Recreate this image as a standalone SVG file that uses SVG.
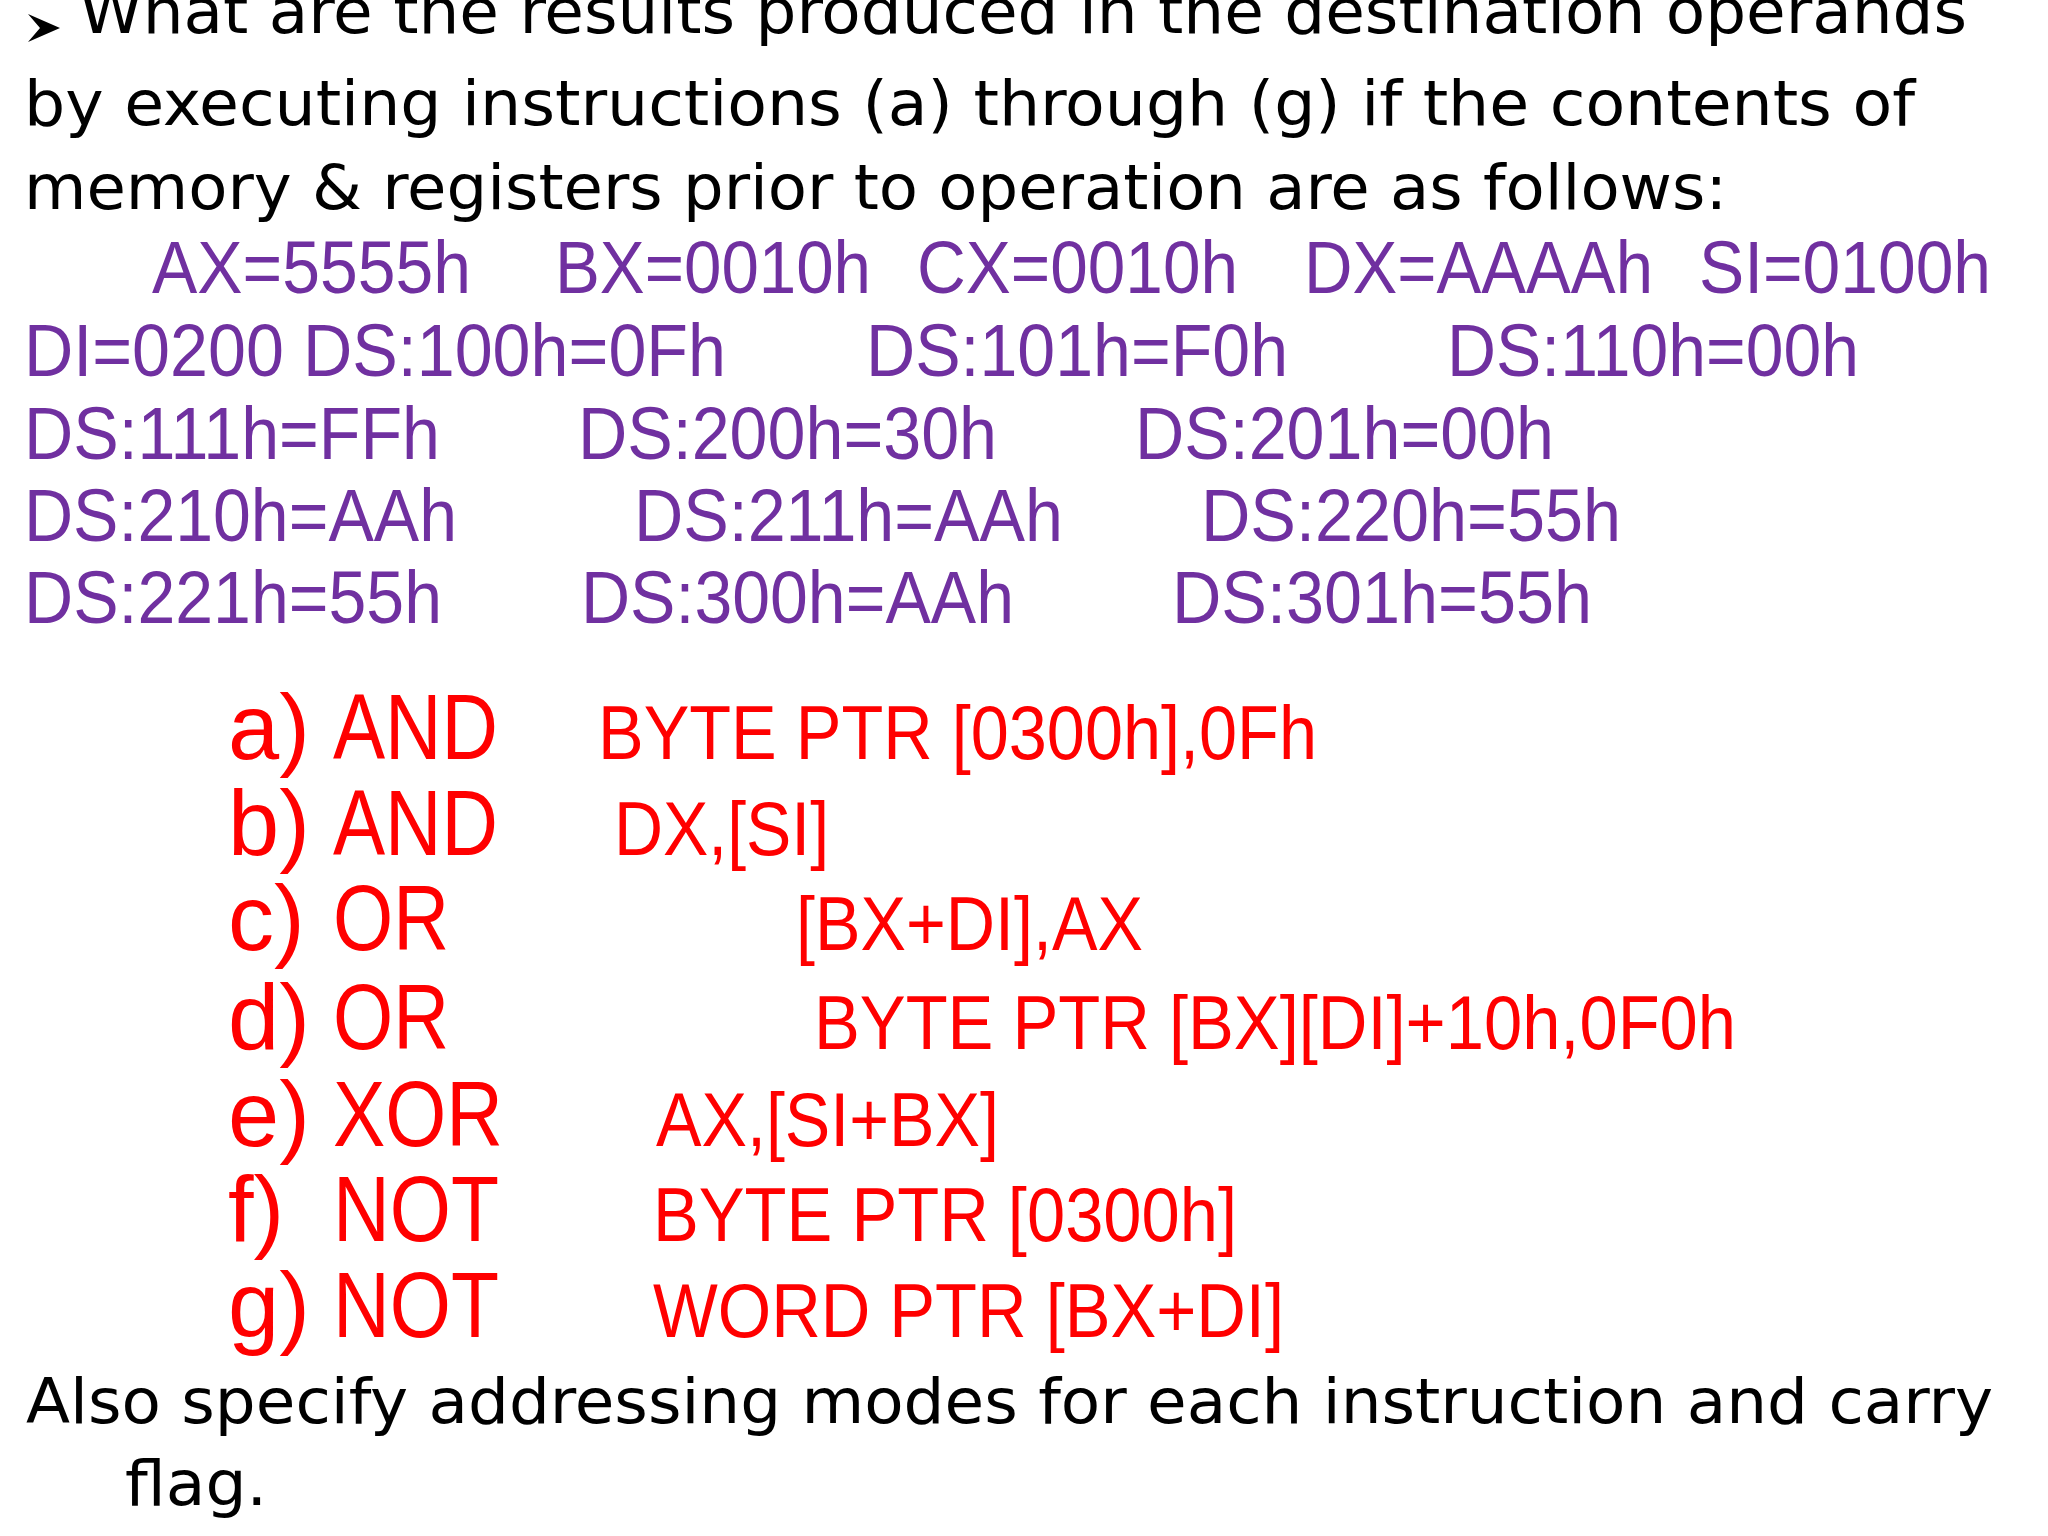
<svg xmlns="http://www.w3.org/2000/svg" width="2048" height="1536" viewBox="0 0 2048 1536">
<style>
.b{font-family:"DejaVu Sans Condensed","DejaVu Sans",sans-serif;font-size:62px;fill:#000}
.p{font-family:"Liberation Sans",Arial,sans-serif;font-size:74px;fill:#7030A0}
.l{font-family:"Liberation Sans",Arial,sans-serif;font-size:92px;fill:#FF0000}
.o{font-family:"Liberation Sans",Arial,sans-serif;font-size:76px;fill:#FF0000}
</style>
<rect width="2048" height="1536" fill="#fff"/>
<g id="question">
<path d="M28 14 L60 28 L28 42 L40 28 Z" fill="#000"/>
<text class="b" x="79" y="33" textLength="1888" lengthAdjust="spacingAndGlyphs">What are the results produced in the destination operands</text>
<text class="b" x="24" y="125" textLength="1891" lengthAdjust="spacingAndGlyphs">by executing instructions (a) through (g) if the contents of</text>
<text class="b" x="24" y="209" textLength="1703" lengthAdjust="spacingAndGlyphs">memory &amp; registers prior to operation are as follows:</text>
</g>
<g id="values">
<text class="p" x="152" y="293" textLength="319" lengthAdjust="spacingAndGlyphs">AX=5555h</text>
<text class="p" x="555" y="293" textLength="316" lengthAdjust="spacingAndGlyphs">BX=0010h</text>
<text class="p" x="917" y="293" textLength="321" lengthAdjust="spacingAndGlyphs">CX=0010h</text>
<text class="p" x="1304" y="293" textLength="349" lengthAdjust="spacingAndGlyphs">DX=AAAAh</text>
<text class="p" x="1699" y="293" textLength="292" lengthAdjust="spacingAndGlyphs">SI=0100h</text>
<text class="p" x="24" y="376" textLength="702" lengthAdjust="spacingAndGlyphs">DI=0200 DS:100h=0Fh</text>
<text class="p" x="866" y="376" textLength="422" lengthAdjust="spacingAndGlyphs">DS:101h=F0h</text>
<text class="p" x="1447" y="376" textLength="412" lengthAdjust="spacingAndGlyphs">DS:110h=00h</text>
<text class="p" x="24" y="459" textLength="416" lengthAdjust="spacingAndGlyphs">DS:111h=FFh</text>
<text class="p" x="578" y="459" textLength="419" lengthAdjust="spacingAndGlyphs">DS:200h=30h</text>
<text class="p" x="1135" y="459" textLength="419" lengthAdjust="spacingAndGlyphs">DS:201h=00h</text>
<text class="p" x="24" y="541" textLength="433" lengthAdjust="spacingAndGlyphs">DS:210h=AAh</text>
<text class="p" x="634" y="541" textLength="429" lengthAdjust="spacingAndGlyphs">DS:211h=AAh</text>
<text class="p" x="1201" y="541" textLength="420" lengthAdjust="spacingAndGlyphs">DS:220h=55h</text>
<text class="p" x="24" y="623" textLength="418" lengthAdjust="spacingAndGlyphs">DS:221h=55h</text>
<text class="p" x="581" y="623" textLength="433" lengthAdjust="spacingAndGlyphs">DS:300h=AAh</text>
<text class="p" x="1172" y="623" textLength="420" lengthAdjust="spacingAndGlyphs">DS:301h=55h</text>
</g>
<g id="instructions">
<text class="l" x="228" y="759">a)</text><text class="l" x="333" y="759" textLength="165" lengthAdjust="spacingAndGlyphs">AND</text>
<text class="o" x="598" y="759" textLength="719" lengthAdjust="spacingAndGlyphs">BYTE PTR [0300h],0Fh</text>
<text class="l" x="228" y="855">b)</text><text class="l" x="333" y="855" textLength="165" lengthAdjust="spacingAndGlyphs">AND</text>
<text class="o" x="614" y="855" textLength="215" lengthAdjust="spacingAndGlyphs">DX,[SI]</text>
<text class="l" x="228" y="950">c)</text><text class="l" x="333" y="950" textLength="116" lengthAdjust="spacingAndGlyphs">OR</text>
<text class="o" x="796" y="950" textLength="347" lengthAdjust="spacingAndGlyphs">[BX+DI],AX</text>
<text class="l" x="228" y="1049">d)</text><text class="l" x="333" y="1049" textLength="116" lengthAdjust="spacingAndGlyphs">OR</text>
<text class="o" x="814" y="1049" textLength="922" lengthAdjust="spacingAndGlyphs">BYTE PTR [BX][DI]+10h,0F0h</text>
<text class="l" x="228" y="1146">e)</text><text class="l" x="333" y="1146" textLength="170" lengthAdjust="spacingAndGlyphs">XOR</text>
<text class="o" x="656" y="1146" textLength="343" lengthAdjust="spacingAndGlyphs">AX,[SI+BX]</text>
<text class="l" x="228" y="1241">f)</text><text class="l" x="333" y="1241" textLength="166" lengthAdjust="spacingAndGlyphs">NOT</text>
<text class="o" x="653" y="1241" textLength="584" lengthAdjust="spacingAndGlyphs">BYTE PTR [0300h]</text>
<text class="l" x="228" y="1337">g)</text><text class="l" x="333" y="1337" textLength="166" lengthAdjust="spacingAndGlyphs">NOT</text>
<text class="o" x="653" y="1337" textLength="631" lengthAdjust="spacingAndGlyphs">WORD PTR [BX+DI]</text>
</g>
<g id="footer">
<text class="b" x="26" y="1423" textLength="1967" lengthAdjust="spacingAndGlyphs">Also specify addressing modes for each instruction and carry</text>
<text class="b" x="125" y="1505" textLength="142" lengthAdjust="spacingAndGlyphs">flag.</text>
</g>
</svg>
